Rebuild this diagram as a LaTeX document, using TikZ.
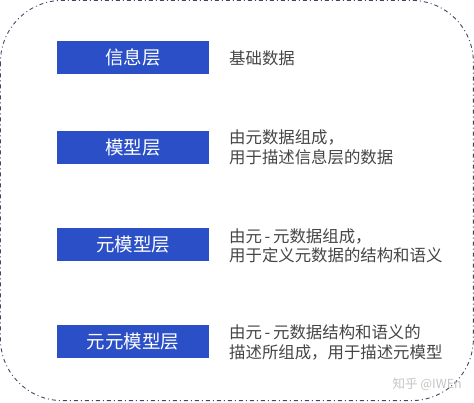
\documentclass[tikz,border=0pt]{standalone}
\usepackage{fontspec}
\setmainfont{Noto Sans CJK SC}
\definecolor{boxblue}{HTML}{2B4FC6}
\definecolor{txtgray}{HTML}{454545}
\definecolor{framecol}{HTML}{3E4866}
\definecolor{wmgray}{HTML}{C4C4C4}
\begin{document}
\begin{tikzpicture}[x=1pt,y=-1pt,
  layerbox/.style={fill=boxblue, draw=none, minimum width=152pt, minimum height=33pt, inner sep=0pt, text=white, font=\fontsize{18.5}{20}\selectfont},
  desc/.style={anchor=west, inner sep=0pt, text=txtgray, align=left, font=\fontsize{16.4}{19.5}\selectfont},
  frame/.style={draw=framecol, line width=0.9pt, dash pattern=on 4pt off 3pt on 1pt off 3pt}
]
\useasboundingbox (0,0) rectangle (474,403);
\draw[frame, rounded corners=62pt] (0.4,0.4) rectangle (473.4,400.6);

\node[layerbox] (l1) at (133,57.5) {信息层};
\node[layerbox] (l2) at (133,148) {模型层};
\node[layerbox] (l3) at (133,245) {元模型层};
\node[layerbox] (l4) at (133,342) {元元模型层};

\node[desc] (d1) at (229,58) {基础数据};
\node[desc] (d2) at (229,147.5) {由元数据组成，\\用于描述信息层的数据};
\node[desc] (d3) at (229,246) {由元\,-\,元数据组成，\\用于定义元数据的结构和语义};
\node[desc] (d4) at (229,342.5) {由元\,-\,元数据结构和语义的\\描述所组成，用于描述元模型};

\node[anchor=east, inner sep=0pt, text=wmgray, font=\fontsize{12.5}{14}\selectfont] (wm) at (462,384) {知乎 @IWEn};
\end{tikzpicture}
\end{document}
